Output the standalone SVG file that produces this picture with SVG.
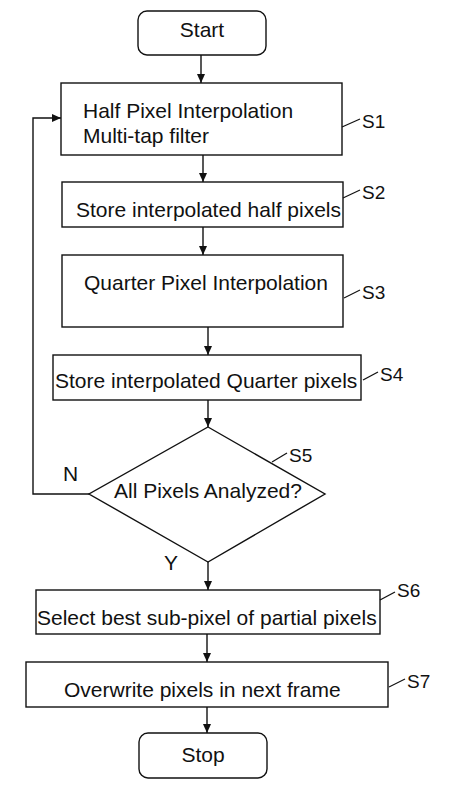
<svg xmlns="http://www.w3.org/2000/svg" width="474" height="799" viewBox="0 0 474 799">
<defs>
<marker id="arr" markerUnits="userSpaceOnUse" markerWidth="10" markerHeight="8" refX="9" refY="4" orient="auto">
<path d="M0,0 L9,4 L0,8 Z" fill="#111"/>
</marker>
<style>
.box{fill:#fff;stroke:#111;stroke-width:1.4}
.t{font-family:"Liberation Sans",Arial,sans-serif;font-size:21px;fill:#111}
.lbl{font-family:"Liberation Sans",Arial,sans-serif;font-size:19px;fill:#111}
.c{fill:none;stroke:#111;stroke-width:1.4}
.ld{fill:none;stroke:#111;stroke-width:1.2}
</style>
</defs>
<rect width="474" height="799" fill="#fff"/>
<g id="connectors">
<line class="c" x1="201" y1="55" x2="201" y2="83" marker-end="url(#arr)"/>
<line class="c" x1="203" y1="155" x2="203" y2="182" marker-end="url(#arr)"/>
<line class="c" x1="203" y1="227" x2="203" y2="255" marker-end="url(#arr)"/>
<line class="c" x1="208" y1="327" x2="208" y2="355" marker-end="url(#arr)"/>
<line class="c" x1="208" y1="400" x2="208" y2="427" marker-end="url(#arr)"/>
<polyline class="c" points="89,494 33,494 33,118 61,118" marker-end="url(#arr)"/>
<line class="c" x1="208" y1="562" x2="208" y2="590" marker-end="url(#arr)"/>
<line class="c" x1="207" y1="634" x2="207" y2="662" marker-end="url(#arr)"/>
<line class="c" x1="207" y1="707" x2="207" y2="733" marker-end="url(#arr)"/>
<text class="t" x="63" y="481" font-size="20">N</text>
<text class="t" x="164" y="570" font-size="20">Y</text>
</g>
<g id="start">
<rect class="box" x="138" y="11" width="128" height="44" rx="9"/>
<text class="t" x="202" y="37" text-anchor="middle">Start</text>
</g>
<g id="s1">
<rect class="box" x="61" y="83" width="281" height="72"/>
<text class="t" x="83" y="118">Half Pixel Interpolation</text>
<text class="t" x="83" y="143">Multi-tap filter</text>
<line class="ld" x1="342" y1="127" x2="360" y2="119"/>
<text class="lbl" x="362" y="128">S1</text>
</g>
<g id="s2">
<rect class="box" x="62" y="182" width="281" height="45"/>
<text class="t" x="76" y="217">Store interpolated half pixels</text>
<line class="ld" x1="343" y1="198" x2="360" y2="190"/>
<text class="lbl" x="362" y="199">S2</text>
</g>
<g id="s3">
<rect class="box" x="62" y="255" width="281" height="72"/>
<text class="t" x="84" y="290">Quarter Pixel Interpolation</text>
<line class="ld" x1="344" y1="298" x2="360" y2="290"/>
<text class="lbl" x="362" y="299">S3</text>
</g>
<g id="s4">
<rect class="box" x="53" y="355" width="308" height="45"/>
<text class="t" x="55" y="388">Store interpolated Quarter pixels</text>
<line class="ld" x1="363" y1="380" x2="378" y2="372"/>
<text class="lbl" x="380" y="381">S4</text>
</g>
<g id="s5">
<polygon class="box" points="208,427 325,494 208,562 89,494"/>
<text class="t" x="114" y="498">All Pixels Analyzed?</text>
<line class="ld" x1="272" y1="462" x2="287" y2="453"/>
<text class="lbl" x="289" y="462">S5</text>
</g>
<g id="s6">
<rect class="box" x="36" y="590" width="344" height="44"/>
<text class="t" x="37" y="625">Select best sub-pixel of partial pixels</text>
<line class="ld" x1="380" y1="600" x2="395" y2="592"/>
<text class="lbl" x="397" y="597">S6</text>
</g>
<g id="s7">
<rect class="box" x="26" y="662" width="362" height="45"/>
<text class="t" x="64" y="697">Overwrite pixels in next frame</text>
<line class="ld" x1="389" y1="687" x2="405" y2="679"/>
<text class="lbl" x="407" y="688">S7</text>
</g>
<g id="stop">
<rect class="box" x="139" y="733" width="128" height="45" rx="9"/>
<text class="t" x="203" y="762" text-anchor="middle">Stop</text>
</g>
</svg>
